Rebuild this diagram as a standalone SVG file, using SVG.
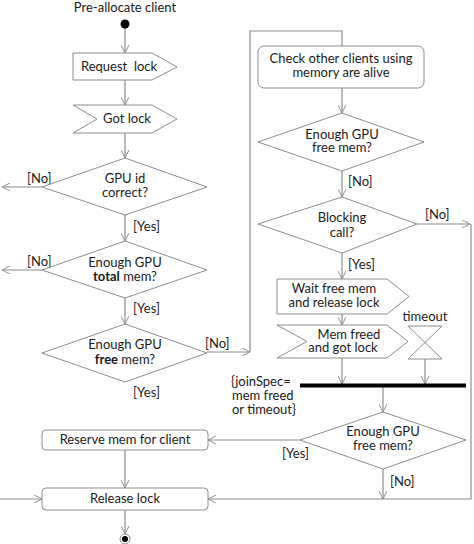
<svg xmlns="http://www.w3.org/2000/svg" width="474" height="544" viewBox="0 0 474 544">
<style>
text{font-family:Lato,"Liberation Sans",sans-serif;font-size:13px;fill:#1a1a1a}
.c{text-anchor:middle}
.s{fill:#fff;stroke:#8c8c8c;stroke-width:1}
.l{fill:none;stroke:#8c8c8c;stroke-width:1.2}
.b{font-weight:bold}
</style>
<defs>
<marker id="a" viewBox="0 0 10 10" refX="10" refY="5" markerWidth="8" markerHeight="8" markerUnits="userSpaceOnUse" orient="auto">
<path d="M0,0 L10,5 L0,10" fill="none" stroke="#8c8c8c" stroke-width="1.2"/>
</marker>
</defs>
<text class="c" x="125" y="12">Pre-allocate client</text>
<g id="connectors">
<line class="l" x1="125" y1="28" x2="125" y2="53" marker-end="url(#a)"/>
<line class="l" x1="125" y1="80" x2="125" y2="105" marker-end="url(#a)"/>
<line class="l" x1="125" y1="133" x2="125" y2="158" marker-end="url(#a)"/>
<line class="l" x1="42" y1="187" x2="2" y2="187" marker-end="url(#a)"/>
<line class="l" x1="125" y1="215" x2="125" y2="241" marker-end="url(#a)"/>
<line class="l" x1="42" y1="270" x2="2" y2="270" marker-end="url(#a)"/>
<line class="l" x1="125" y1="298" x2="125" y2="324" marker-end="url(#a)"/>
<line class="l" x1="207" y1="352" x2="250" y2="352" marker-end="url(#a)"/>
<polyline class="l" points="250,352 250,31 342,31 342,46"/>
<line class="l" x1="342" y1="88" x2="342" y2="113" marker-end="url(#a)"/>
<line class="l" x1="342" y1="171" x2="342" y2="197" marker-end="url(#a)"/>
<line class="l" x1="417" y1="224" x2="470" y2="224" marker-end="url(#a)"/>
<polyline class="l" points="471,224 471,499 208,499" marker-end="url(#a)"/>
<line class="l" x1="342" y1="253" x2="342" y2="279" marker-end="url(#a)"/>
<line class="l" x1="342" y1="314" x2="342" y2="325" marker-end="url(#a)"/>
<line class="l" x1="342" y1="358" x2="342" y2="384" marker-end="url(#a)"/>
<line class="l" x1="425" y1="359" x2="425" y2="384" marker-end="url(#a)"/>
<line class="l" x1="383" y1="387" x2="383" y2="412" marker-end="url(#a)"/>
<line class="l" x1="300" y1="440" x2="208" y2="440" marker-end="url(#a)"/>
<line class="l" x1="383" y1="469" x2="383" y2="499" marker-end="url(#a)"/>
<line class="l" x1="125" y1="450" x2="125" y2="488" marker-end="url(#a)"/>
<line class="l" x1="0" y1="499" x2="42" y2="499" marker-end="url(#a)"/>
<line class="l" x1="125" y1="510" x2="125" y2="534" marker-end="url(#a)"/>
<text x="27" y="183">[No]</text>
<text x="133" y="231">[Yes]</text>
<text x="27" y="266">[No]</text>
<text x="133" y="313">[Yes]</text>
<text x="205" y="348">[No]</text>
<text x="133" y="397">[Yes]</text>
<text x="348" y="186">[No]</text>
<text x="425" y="219">[No]</text>
<text x="348" y="269">[Yes]</text>
<text x="282" y="458">[Yes]</text>
<text x="390" y="486">[No]</text>
</g>
<g id="start"><circle cx="125" cy="24" r="4.5" fill="#000"/></g>
<g id="request-lock">
<polygon class="s" points="73,53 152,53 177,67 152,80 73,80"/>
<text x="81" y="71" xml:space="preserve">Request  lock</text>
</g>
<g id="got-lock">
<polygon class="s" points="73,105 152,105 177,119 152,133 73,133 97,119"/>
<text class="c" x="127" y="123">Got lock</text>
</g>
<g id="gpu-id">
<polygon class="s" points="125,158 207,187 125,215 42,187"/>
<text class="c" x="125" y="183">GPU id</text>
<text class="c" x="125" y="197">correct?</text>
</g>
<g id="total-mem">
<polygon class="s" points="125,241 207,270 125,298 42,270"/>
<text class="c" x="125" y="267">Enough GPU</text>
<text class="c" x="125" y="281"><tspan class="b">total</tspan> mem?</text>
</g>
<g id="free-mem">
<polygon class="s" points="125,324 207,353 125,382 42,353"/>
<text class="c" x="125" y="349">Enough GPU</text>
<text class="c" x="125" y="364"><tspan class="b">free</tspan> mem?</text>
</g>
<g id="check-clients">
<rect class="s" x="258" y="46" width="166" height="42" rx="6"/>
<text class="c" x="341" y="63">Check other clients using</text>
<text class="c" x="341" y="77">memory are alive</text>
</g>
<g id="free-mem-2">
<polygon class="s" points="342,113 424,142 342,171 258,142"/>
<text class="c" x="342" y="139">Enough GPU</text>
<text class="c" x="342" y="152">free mem?</text>
</g>
<g id="blocking">
<polygon class="s" points="342,197 417,224 342,253 258,224"/>
<text class="c" x="342" y="222">Blocking</text>
<text class="c" x="342" y="237">call?</text>
</g>
<g id="wait-free">
<polygon class="s" points="277,279 387,279 409,296.5 387,314 277,314"/>
<text class="c" x="334" y="293">Wait free mem</text>
<text class="c" x="334" y="307">and release lock</text>
</g>
<g id="mem-freed">
<polygon class="s" points="277,325 387,325 408,341.5 387,358 277,358 307,341.5"/>
<text class="c" x="349" y="339">Mem freed</text>
<text class="c" x="343" y="352">and got lock</text>
</g>
<g id="timeout">
<polygon class="s" points="408,326 442,326 408,359 442,359"/>
<text class="c" x="425" y="321">timeout</text>
</g>
<g id="join">
<rect x="300" y="383.5" width="166" height="4" fill="#000"/>
<text x="231" y="386">{joinSpec=</text>
<text x="232" y="400">mem freed</text>
<text x="232" y="414">or timeout}</text>
</g>
<g id="free-mem-3">
<polygon class="s" points="383,412 466,440 383,469 300,440"/>
<text class="c" x="383" y="436">Enough GPU</text>
<text class="c" x="383" y="450">free mem?</text>
</g>
<g id="reserve">
<rect class="s" x="42" y="430" width="166" height="20" rx="4"/>
<text class="c" x="125" y="444">Reserve mem for client</text>
</g>
<g id="release">
<rect class="s" x="42" y="488" width="166" height="22" rx="4"/>
<text class="c" x="125" y="503">Release lock</text>
</g>
<g id="end">
<circle cx="125" cy="539" r="5" fill="#fff" stroke="#8c8c8c"/>
<circle cx="125" cy="539" r="3" fill="#000"/>
</g>
</svg>
